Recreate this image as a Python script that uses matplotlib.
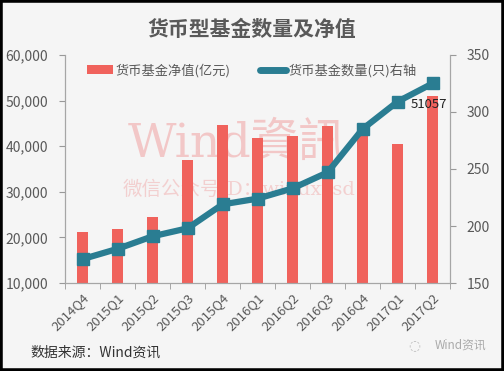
import numpy as np
import matplotlib.pyplot as plt
from matplotlib.patches import Rectangle
from matplotlib.lines import Line2D

plt.rcParams['font.family'] = ['Noto Sans CJK SC', 'DejaVu Sans']

quarters = ['2014Q4', '2015Q1', '2015Q2', '2015Q3', '2015Q4', '2016Q1',
            '2016Q2', '2016Q3', '2016Q4', '2017Q1', '2017Q2']
net_value = [21100, 21800, 24400, 37000, 44600, 41800, 42200, 44400, 43000, 40400, 51057]
fund_count = [171, 180, 191, 198, 219, 224, 233, 247, 285, 309, 325]

bar_color = '#f0625c'
line_color = '#2a7d92'
text_color = '#595959'
bg = '#f5f5f5'

fig = plt.figure(figsize=(5.04, 3.71), dpi=100, facecolor=bg)
ax = fig.add_axes([0.129, 0.237, 0.764, 0.615])
ax.set_facecolor(bg)
ax2 = ax.twinx()

x = np.arange(len(quarters))
bars = ax.bar(x, net_value, width=0.32, color=bar_color, zorder=2,
              label='货币基金净值(亿元)')
ax2.plot(x, fund_count, color=line_color, lw=4.5, marker='s',
         markersize=8, zorder=3)

ax.text(x[-1] - 0.1, net_value[-1] - 600, f'{net_value[-1]}', ha='center', va='top',
        fontsize=9.5, color='#222222', zorder=5)

# watermark, behind the bars
ax.text(0.47, 0.61, 'Wind資訊', family=['DejaVu Serif', 'Noto Sans CJK TC'],
        fontsize=34, color='#f2b4b4', alpha=0.7, ha='center', va='center', zorder=1,
        transform=fig.transFigure)
ax.text(0.475, 0.49, '微信公众号ID：windxxsd', family=['DejaVu Serif', 'Noto Sans CJK SC'],
        fontsize=14, color='#f2c0c0', alpha=0.7, ha='center', va='center', zorder=1,
        transform=fig.transFigure)

ax.set_xlim(-0.5, len(quarters) - 0.5)
ax.set_ylim(10000, 60000)
ax.set_yticks(np.arange(10000, 60001, 10000))
ax.set_yticklabels([f'{v:,}' for v in range(10000, 60001, 10000)])
ax2.set_ylim(150, 350)
ax2.set_yticks([150, 200, 250, 300, 350])

ax.set_xticks(x)
ax.set_xticklabels(quarters, rotation=45, ha='right', rotation_mode='anchor')
ax.set_xticks(np.arange(-0.5, len(quarters), 1), minor=True)
ax.tick_params(axis='x', which='major', length=0, labelsize=9.5, colors=text_color, pad=6)
ax.tick_params(axis='x', which='minor', length=4, color='#999999')
ax.tick_params(axis='y', length=4, color='#999999', labelsize=10, labelcolor=text_color, pad=8)
ax2.tick_params(axis='y', length=4, color='#999999', labelsize=10, labelcolor=text_color, pad=8)

for a in (ax, ax2):
    a.spines['top'].set_visible(False)
    for s in ('left', 'right', 'bottom'):
        a.spines[s].set_color('#a6a6a6')
        a.spines[s].set_linewidth(0.8)
ax2.patch.set_visible(False)
ax.set_zorder(1)
ax2.set_zorder(2)

line_handle = Line2D([], [], color=line_color, lw=5, solid_capstyle='round',
                     label='货币基金数量(只)右轴')
fig.legend(handles=[bars, line_handle], loc='center', bbox_to_anchor=(0.5, 0.81), ncol=2,
           frameon=False, fontsize=9.5, handlelength=2.0, handletextpad=0.2,
           columnspacing=2.2, labelcolor=text_color)

fig.text(0.5, 0.92, '货币型基金数量及净值', ha='center', va='center', fontsize=15,
         fontweight='bold', color=text_color)
fig.text(0.06, 0.05, '数据来源：Wind资讯', ha='left', va='center', fontsize=10, color='#333333')
fig.text(0.965, 0.07, 'Wind资讯', ha='right', va='center', fontsize=8.5, color='#aaaaaa')
fig.text(0.835, 0.07, '◌', ha='right', va='center', fontsize=10, color='#bbbbbb',
         family=['DejaVu Sans'])

fig.patches.append(Rectangle((0, 0), 1, 1, transform=fig.transFigure, fill=False,
                             edgecolor='black', lw=4))

fig.savefig('out.png', dpi=100, facecolor=bg)
